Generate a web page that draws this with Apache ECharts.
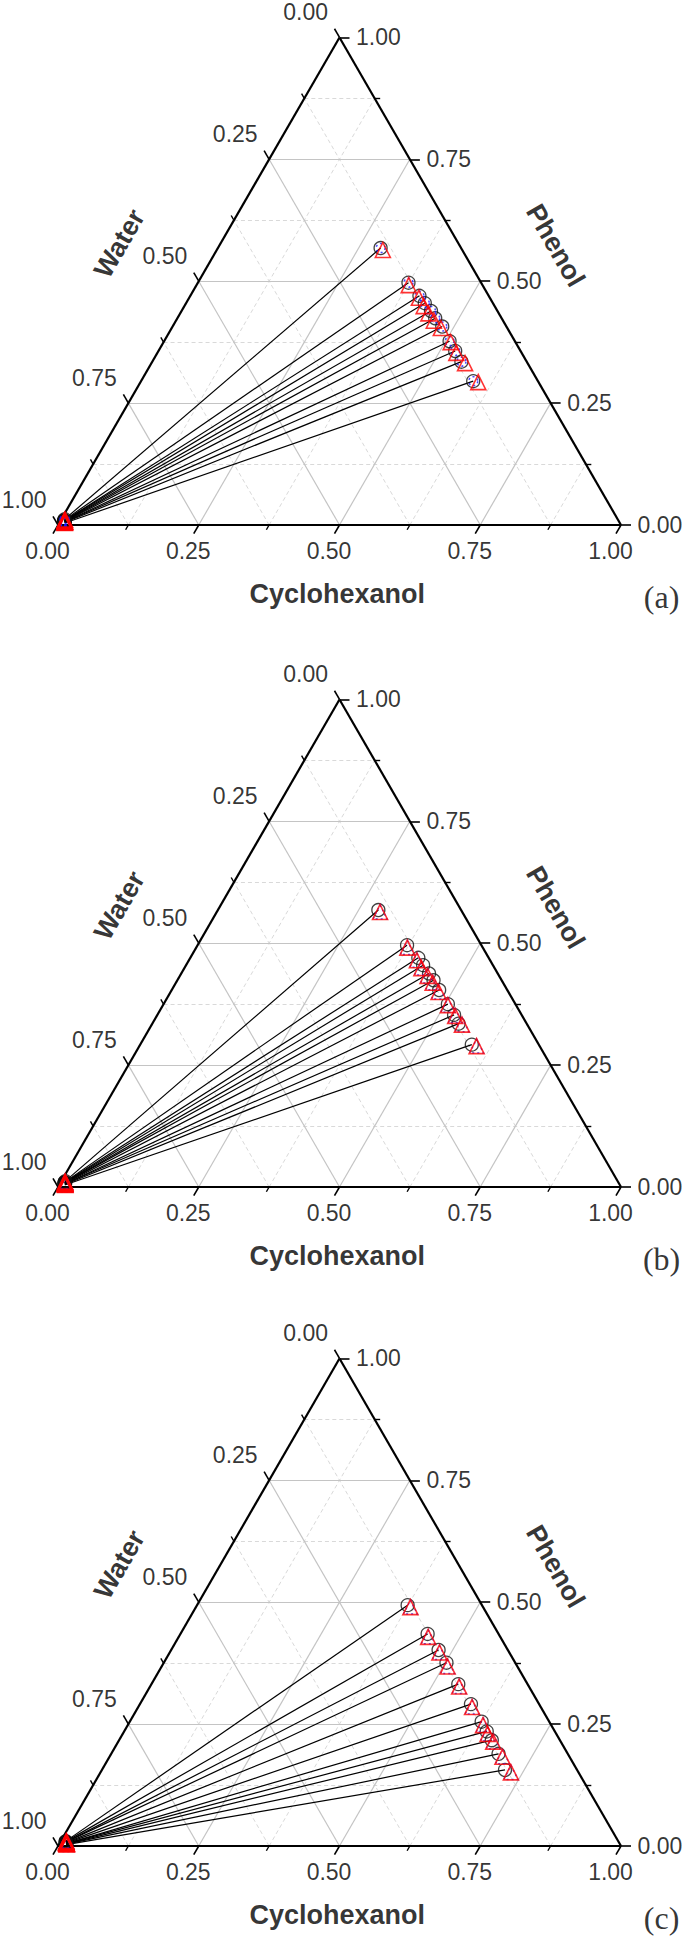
<!DOCTYPE html>
<html>
<head>
<meta charset="utf-8">
<script src="https://cdn.jsdelivr.net/npm/echarts@6/dist/echarts.min.js"></script>
<style>
    html, body {margin: 0; padding: 0; background: #fff;}
    #main {width: 685px; height: 1938px;}
</style>
</head>
<body>
<div id="main"></div>
<script>
// points are [cyclohexanol, phenol]; water = 1 - cyclohexanol - phenol
var expOrgA = [[0.289, 0.568], [0.374, 0.497], [0.407, 0.470], [0.424, 0.455], [0.443, 0.439], [0.458, 0.424],
    [0.479, 0.407], [0.507, 0.377], [0.527, 0.357], [0.549, 0.335], [0.590, 0.295]];
var calcOrgA = [[0.295, 0.564], [0.377, 0.492], [0.408, 0.466], [0.425, 0.449], [0.441, 0.434], [0.458, 0.419],
    [0.478, 0.404], [0.510, 0.375], [0.531, 0.353], [0.557, 0.332], [0.600, 0.293]];
var expAqA = [[0.006, 0.012], [0.006, 0.010], [0.007, 0.009], [0.007, 0.009], [0.007, 0.008], [0.008, 0.008],
    [0.008, 0.007], [0.008, 0.006], [0.009, 0.006], [0.009, 0.005], [0.010, 0.004]];
var calcAqA = [[0.007, 0.011], [0.007, 0.010], [0.007, 0.009], [0.008, 0.008], [0.008, 0.008], [0.008, 0.007],
    [0.009, 0.007], [0.009, 0.006], [0.009, 0.005], [0.010, 0.005], [0.010, 0.004]];

var expOrgB = [[0.285, 0.568], [0.372, 0.496], [0.405, 0.470], [0.421, 0.455], [0.440, 0.438], [0.455, 0.424],
    [0.475, 0.404], [0.505, 0.375], [0.527, 0.353], [0.544, 0.335], [0.589, 0.292]];
var calcOrgB = [[0.290, 0.564], [0.375, 0.491], [0.405, 0.465], [0.421, 0.449], [0.440, 0.433], [0.456, 0.419],
    [0.476, 0.400], [0.506, 0.373], [0.530, 0.351], [0.551, 0.333], [0.599, 0.289]];
var expAqB = [[0.007, 0.012], [0.007, 0.010], [0.007, 0.009], [0.008, 0.009], [0.008, 0.008], [0.008, 0.008],
    [0.009, 0.007], [0.009, 0.006], [0.009, 0.006], [0.010, 0.005], [0.010, 0.004]];
var calcAqB = [[0.007, 0.011], [0.008, 0.010], [0.008, 0.009], [0.008, 0.008], [0.009, 0.008], [0.009, 0.007],
    [0.009, 0.007], [0.010, 0.006], [0.010, 0.005], [0.010, 0.005], [0.011, 0.004]];

var expOrgC = [[0.374, 0.494], [0.439, 0.435], [0.475, 0.402], [0.502, 0.376], [0.545, 0.332], [0.588, 0.291],
    [0.625, 0.255], [0.644, 0.235], [0.662, 0.217], [0.688, 0.189], [0.716, 0.156]];
var calcOrgC = [[0.381, 0.490], [0.443, 0.429], [0.479, 0.397], [0.508, 0.368], [0.549, 0.327], [0.593, 0.285],
    [0.631, 0.248], [0.648, 0.230], [0.666, 0.214], [0.698, 0.183], [0.729, 0.151]];
var expAqC = [[0.009, 0.010], [0.009, 0.009], [0.010, 0.008], [0.010, 0.008], [0.011, 0.007], [0.011, 0.006],
    [0.012, 0.005], [0.012, 0.005], [0.012, 0.004], [0.013, 0.004], [0.013, 0.003]];
var calcAqC = [[0.010, 0.010], [0.010, 0.009], [0.011, 0.008], [0.011, 0.007], [0.011, 0.007], [0.012, 0.006],
    [0.012, 0.005], [0.013, 0.005], [0.013, 0.004], [0.014, 0.004], [0.014, 0.003]];

var majorTicks = [0, 0.25, 0.5, 0.75, 1];
var majorLabels = ['0.00', '0.25', '0.50', '0.75', '1.00'];
var minorTicks = [0.125, 0.375, 0.625, 0.875];
var gridMajor = [0.25, 0.5, 0.75];
var panelLetters = ['(a)', '(b)', '(c)'];

var panels = [
    {exp: expOrgA, calc: calcOrgA, expAq: expAqA, calcAq: calcAqA, blue: 'circle', blueSize: 9},
    {exp: expOrgB, calc: calcOrgB, expAq: expAqB, calcAq: calcAqB, blue: 'triangle', blueSize: 14},
    {exp: expOrgC, calc: calcOrgC, expAq: expAqC, calcAq: calcAqC, blue: 'triangle', blueSize: 14}
];

var H = Math.sqrt(3) / 2;
var S = 563;                  // pixels per unit side
var originX = 58;
var originY = [525, 1187, 1846];
var xMin = -0.1, xMax = 1.1, yMin = -0.13, yMax = 0.93;
var font = '"Liberation Sans", Arial, sans-serif';

function toXY(c, p) {
    return [c + p / 2, p * H];
}

function shift(pt, dx, dy) {
    return [pt[0] + dx, pt[1] + dy];
}

function linesSeries(i, segs, style, z) {
    return {
        type: 'lines', coordinateSystem: 'cartesian2d', xAxisIndex: i, yAxisIndex: i,
        silent: true, clip: false, z: z, animation: false,
        lineStyle: Object.assign({opacity: 1, curveness: 0}, style),
        data: segs.map(function (s) { return {coords: s}; })
    };
}

function pointSeries(i, pts, symbol, size, itemStyle, z) {
    return {
        type: 'scatter', xAxisIndex: i, yAxisIndex: i, silent: true, clip: false, z: z, animation: false,
        symbol: symbol, symbolSize: size, itemStyle: itemStyle,
        data: pts.map(function (p) { return toXY(p[0], p[1]); })
    };
}

function textSeries(i, items, z) {
    return {
        type: 'scatter', xAxisIndex: i, yAxisIndex: i, silent: true, clip: false, z: z, animation: false,
        symbolSize: 1, itemStyle: {color: 'rgba(0,0,0,0)'},
        label: {show: true, formatter: '{b}', color: '#000', fontFamily: font, fontSize: 23},
        data: items
    };
}

function gridLines(vals) {
    var segs = [];
    vals.forEach(function (v) {
        segs.push([toXY(0, v), toXY(1 - v, v)]);          // phenol const
        segs.push([toXY(v, 0), toXY(v, 1 - v)]);          // cyclohexanol const
        segs.push([toXY(1 - v, 0), toXY(0, 1 - v)]);      // water const
    });
    return segs;
}

function tickSegs(vals, len) {
    var segs = [];
    vals.forEach(function (v) {
        var b = toXY(v, 0);
        segs.push([b, shift(b, -0.5 * len, -H * len)]);
        var r = toXY(1 - v, v);
        segs.push([r, shift(r, len, 0)]);
        var l = toXY(0, 1 - v);
        segs.push([l, shift(l, -0.5 * len, H * len)]);
    });
    return segs;
}

var grids = [], xAxes = [], yAxes = [], series = [];

panels.forEach(function (pn, i) {
    grids.push({
        left: originX + xMin * S, top: originY[i] - yMax * S,
        width: (xMax - xMin) * S, height: (yMax - yMin) * S
    });
    xAxes.push({type: 'value', gridIndex: i, min: xMin, max: xMax, show: false});
    yAxes.push({type: 'value', gridIndex: i, min: yMin, max: yMax, show: false});

    series.push(linesSeries(i, gridLines(minorTicks), {color: '#d9d9d9', width: 1, type: [4, 3]}, 1));
    series.push(linesSeries(i, gridLines(gridMajor), {color: '#c4c4c4', width: 1.2}, 2));

    var frame = [[toXY(0, 0), toXY(1, 0)], [toXY(1, 0), toXY(0, 1)], [toXY(0, 1), toXY(0, 0)]];
    series.push(linesSeries(i, frame, {color: '#000', width: 2.2}, 3));
    series.push(linesSeries(i, tickSegs(majorTicks, 10 / S), {color: '#000', width: 1.6}, 3));
    series.push(linesSeries(i, tickSegs(minorTicks, 5.5 / S), {color: '#000', width: 1.4}, 3));

    var ties = pn.exp.map(function (p, k) {
        var a = pn.expAq[k];
        return [toXY(a[0], a[1]), toXY(p[0], p[1])];
    });
    series.push(linesSeries(i, ties, {color: '#000', width: 1.2}, 4));

    var allExp = pn.exp.concat(pn.expAq), allCalc = pn.calc.concat(pn.calcAq);
    series.push(pointSeries(i, allExp, 'circle', 13,
        {color: 'rgba(0,0,0,0)', borderColor: '#111', borderWidth: 1.3}, 5));
    series.push(pointSeries(i, i === 0 ? allExp : allCalc, pn.blue, pn.blueSize,
        {color: 'rgba(0,0,0,0)', borderColor: '#1a1aff', borderWidth: 1.5, borderType: [2, 3]}, 6));
    series.push(pointSeries(i, allCalc, 'triangle', 15,
        {color: 'rgba(0,0,0,0)', borderColor: '#ff0000', borderWidth: 1.6}, 7));

    // tick labels
    var items = [];
    majorTicks.forEach(function (v, k) {
        items.push({value: toXY(v, 0), name: majorLabels[k],
            label: {position: [-10, 26], align: 'center', verticalAlign: 'middle'}});
        items.push({value: toXY(1 - v, v), name: majorLabels[k],
            label: {position: [17, 0], align: 'left', verticalAlign: 'middle'}});
        items.push({value: toXY(0, 1 - v), name: majorLabels[k],
            label: {position: [-11, -25], align: 'right', verticalAlign: 'middle'}});
    });
    // axis titles and panel letter
    var bold = {fontFamily: font, fontWeight: 'bold', fontSize: 27, align: 'center', verticalAlign: 'middle', position: [0, 0]};
    items.push({value: [0.497, -0.124], name: 'Cyclohexanol', label: bold});
    items.push({value: [0.110, 0.499], name: 'Water', label: Object.assign({rotate: 60}, bold)});
    items.push({value: [0.8845, 0.4956], name: 'Phenol', label: Object.assign({rotate: -60}, bold)});
    items.push({value: [1.073, -0.128], name: panelLetters[i],
        label: {fontFamily: '"Liberation Serif", "Times New Roman", serif', fontSize: 32,
            align: 'center', verticalAlign: 'middle', position: [0, 0]}});
    series.push(textSeries(i, items, 8));
});

var chart = echarts.init(document.getElementById('main'), null, {renderer: 'svg'});
chart.setOption({
    animation: false,
    backgroundColor: '#fff',
    grid: grids,
    xAxis: xAxes,
    yAxis: yAxes,
    series: series
});
</script>
</body>
</html>
